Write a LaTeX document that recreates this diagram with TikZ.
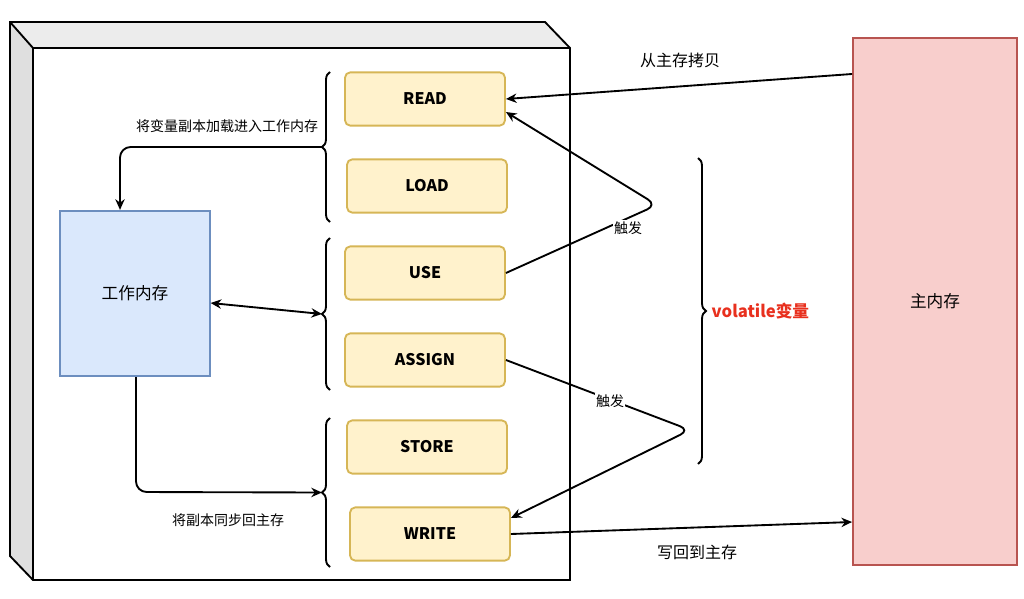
\documentclass[tikz,border=0pt]{standalone}
\usepackage{fontspec}
\setmainfont{Noto Sans CJK SC}
\usetikzlibrary{decorations.pathreplacing,arrows.meta}
\definecolor{yf}{HTML}{FFF2CC}\definecolor{yd}{HTML}{D6B656}
\definecolor{bf}{HTML}{DAE8FC}\definecolor{bd}{HTML}{6C8EBF}
\definecolor{rf}{HTML}{F8CECC}\definecolor{rd}{HTML}{B85450}
\definecolor{vr}{HTML}{E8301E}
\begin{document}
\begin{tikzpicture}[x=0.75pt,y=-0.75pt,
 op/.style={draw=yd,fill=yf,rounded corners=4pt,line width=1.4pt,minimum width=120pt,minimum height=40pt,font=\bfseries\fontsize{12}{14}\selectfont},
 lab/.style={font=\fontsize{10.5}{12}\selectfont},
 ar/.style={-{Stealth[length=8pt,width=7pt]},line width=1.4pt},
 br/.style={decorate,decoration={brace,amplitude=6pt},line width=1.4pt}]
\useasboundingbox (0,0) rectangle (1024,599);
% cube
\fill[gray!15] (10,22)--(545,22)--(570,48)--(33,48)--cycle;
\fill[gray!25] (10,22)--(33,48)--(33,580)--(10,556)--cycle;
\draw[line width=1.4pt] (10,22)--(545,22)--(570,48)--(570,580)--(33,580)--(10,556)--cycle;
\draw[line width=1.4pt] (10,22)--(33,48)--(570,48) (33,48)--(33,580);
% nodes
\node[op] (read) at (425,99) {READ};
\node[op] (load) at (427,186) {LOAD};
\node[op] (use) at (425,273) {USE};
\node[op] (assign) at (425,360) {ASSIGN};
\node[op] (store) at (427,447) {STORE};
\node[op] (write) at (430,534) {WRITE};
\node[draw=bd,fill=bf,line width=1.4pt,minimum width=112pt,minimum height=124pt,font=\fontsize{12.5}{14}\selectfont] (wm) at (135,293.5) {工作内存};
\node[draw=rd,fill=rf,line width=1.4pt,minimum width=123pt,minimum height=395pt,font=\fontsize{12.5}{14}\selectfont] (mm) at (935,301.5) {主内存};
% braces
\draw[br] (330,222)--(330,72) coordinate[midway,xshift=-6pt] (b1);
\draw[br] (330,390)--(330,238) coordinate[midway,xshift=-6pt] (b2);
\draw[br] (330,567)--(330,418) coordinate[midway,xshift=-6pt] (b3);
\draw[br] (698,158)--(698,464) coordinate[midway,xshift=6pt] (b4);
\node[font=\bfseries\fontsize{12.5}{14}\selectfont,text=vr,anchor=west] (vol) at (707,311) {volatile变量};
% connectors
\draw[ar,rounded corners=8pt] (b1)--(120,147)--(wm.north -| 120,0);
\node[lab] (l1) at (227,126) {将变量副本加载进入工作内存};
\draw[{Stealth[length=8pt,width=7pt]}-{Stealth[length=8pt,width=7pt]},line width=1.4pt] (wm.east |- 0,303)--(b2);
\draw[ar,rounded corners=8pt] (wm.south -| 136,0)--(136,492)--(b3);
\node[lab] (l2) at (228,520) {将副本同步回主存};
\draw[ar] (mm.north west |- 0,74)--(read.east |- 0,99);
\node[font=\fontsize{12}{13}\selectfont] (l3) at (680,60) {从主存拷贝};
\draw[ar] (write.east)--(mm.west |- 0,522);
\node[font=\fontsize{12}{13}\selectfont] (l4) at (697,552) {写回到主存};
\coordinate (c1) at (657,205);
\draw[ar,rounded corners=8pt] (use.east)--(c1)--(read.east |- 0,112);
\node[lab,fill=white,inner sep=1pt] (t1) at (628,228) {触发};
\coordinate (c2) at (690,430);
\draw[ar,rounded corners=8pt] (assign.east)--(c2)--(write.east |- 0,518);
\node[lab,fill=white,inner sep=1pt] (t2) at (610,401) {触发};
\end{tikzpicture}
\end{document}
